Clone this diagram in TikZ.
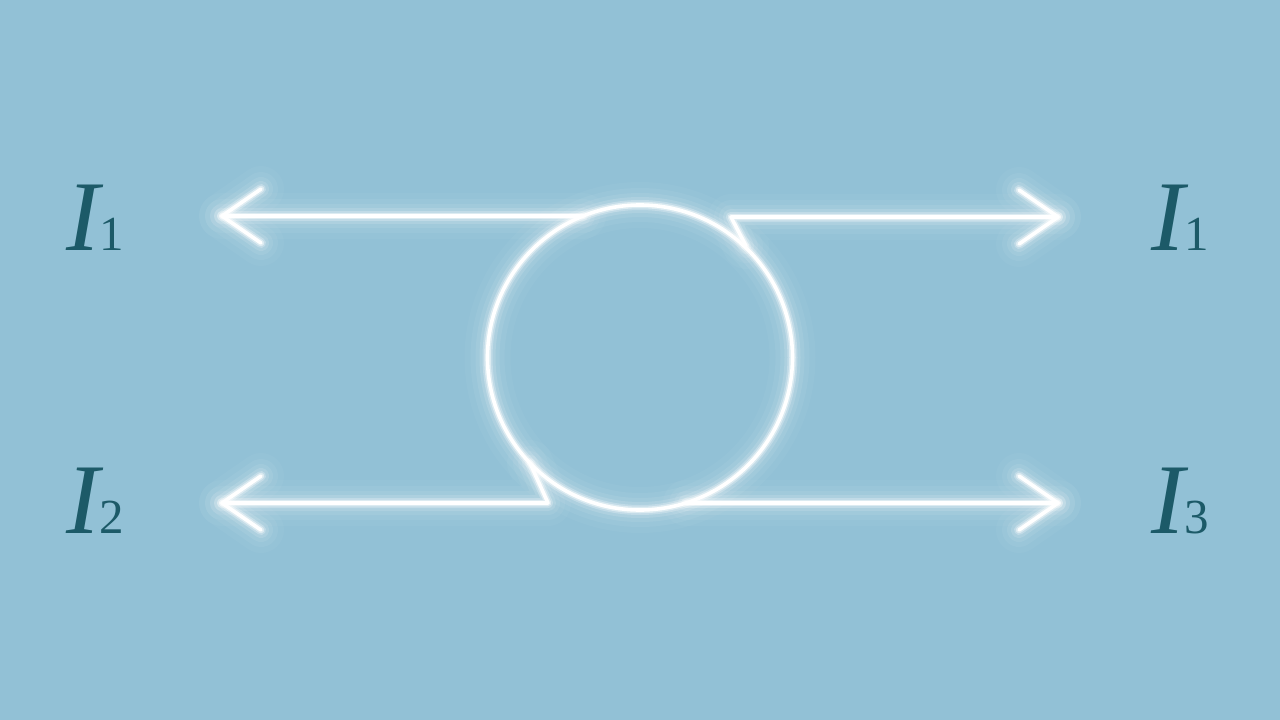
\documentclass[tikz,border=0pt]{standalone}
\usepackage{fontspec}
\setmainfont{Liberation Serif}
\definecolor{bg}{HTML}{92C1D6}
\definecolor{ink}{HTML}{1C5A68}
\newcommand{\glowdraw}[1]{%
  \foreach \w/\o in {46/0.035,34/0.05,24/0.08,16/0.13,10/0.25,6.5/0.45}{%
    \draw[white,line width=\w pt,opacity=\o,line cap=round,line join=round] #1;}%
  \draw[white,line width=3.6pt,line cap=round,line join=round] #1;}
\newcommand{\lbl}[2]{{\fontsize{100}{100}\selectfont\itshape #1}{\fontsize{49}{49}\selectfont #2}}
\begin{document}
\begin{tikzpicture}[x=1pt,y=-1pt,
  labelnode/.style={anchor=base west,inner sep=0pt,text=ink}]
\fill[bg] (0,0) rectangle (1280,720);
\useasboundingbox (0,0) rectangle (1280,720);
\coordinate (C) at (640,357.5);
% circle
\glowdraw{(C) circle[radius=152.5]}
% top-left line + arrow
\coordinate (tl) at (222,216);
\coordinate (tlc) at (583,216);
\glowdraw{(tlc) -- (tl)}
\glowdraw{(261,189) -- (tl) -- (261,243)}
% top-right line + arrow
\coordinate (tr) at (1058,217);
\coordinate (trk) at (731,217);
\coordinate (trc) at (746,246);
\glowdraw{(trc) -- (trk) -- (tr)}
\glowdraw{(1019,190) -- (tr) -- (1019,244)}
% bottom-left line + arrow
\coordinate (bl) at (222,503);
\coordinate (blk) at (548,503);
\coordinate (blc) at (530,463);
\glowdraw{(blc) -- (blk) -- (bl)}
\glowdraw{(261,476) -- (bl) -- (261,530)}
% bottom-right line + arrow
\coordinate (br) at (1058,503);
\coordinate (brc) at (686,503);
\glowdraw{(brc) -- (br)}
\glowdraw{(1019,476) -- (br) -- (1019,530)}
% labels
\node[labelnode] (l1) at (66,250) {\lbl{I}{1}};
\node[labelnode] (l2) at (66,533) {\lbl{I}{2}};
\node[labelnode] (r1) at (1151,250) {\lbl{I}{1}};
\node[labelnode] (r3) at (1151,533) {\lbl{I}{3}};
\end{tikzpicture}
\end{document}
